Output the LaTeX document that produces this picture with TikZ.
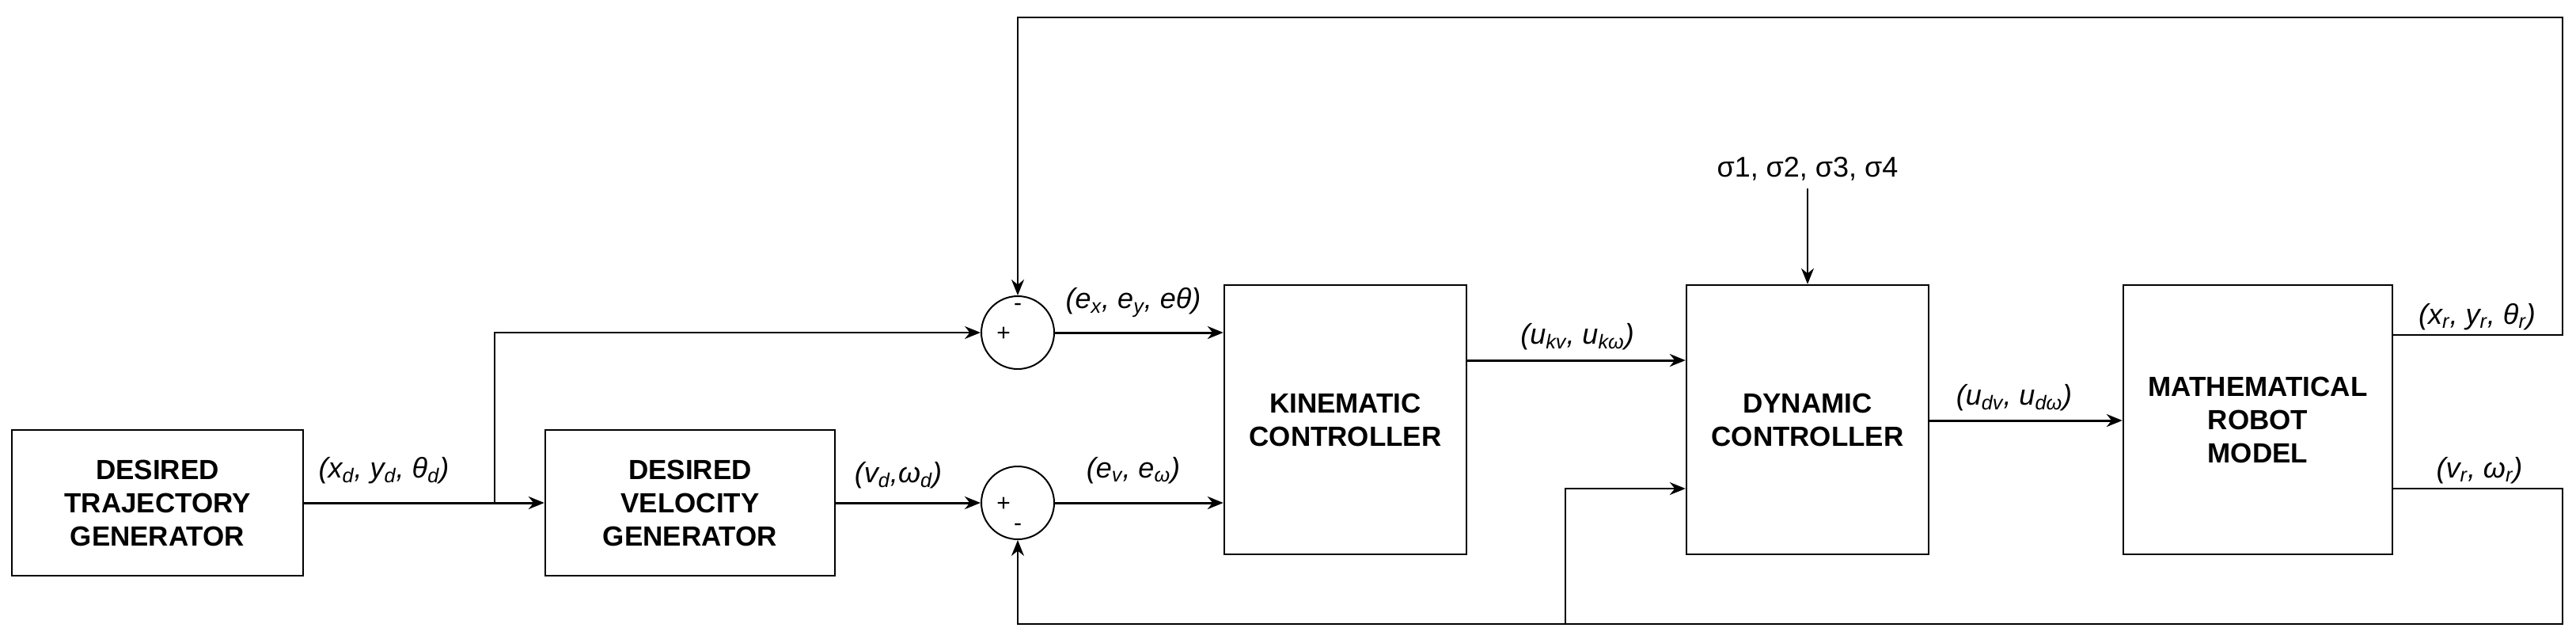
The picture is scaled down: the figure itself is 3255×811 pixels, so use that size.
\documentclass[tikz,border=0pt]{standalone}
\usepackage{fontspec}
\setmainfont{Liberation Sans}
\usetikzlibrary{arrows.meta}
\newcommand{\sbs}[1]{\textsubscript{#1}}
\begin{document}
\begin{tikzpicture}[x=0.5pt,y=-0.5pt,
  blk/.style={draw,line width=1.2pt,minimum width=#1,font=\fontsize{17.5}{21}\selectfont\bfseries,align=center,inner sep=0pt},
  sum/.style={draw,circle,line width=1pt,minimum size=46pt,inner sep=0pt},
  lbl/.style={font=\fontsize{18}{20}\selectfont\itshape,inner sep=0pt},
  sg/.style={font=\fontsize{15}{18}\selectfont,inner sep=0pt},
  ar/.style={-{Stealth[length=10pt,width=8pt]},line width=1.5pt},
  tl/.style={line width=1pt},
  ta/.style={-{Stealth[length=10pt,width=8pt]},line width=1pt}]
\useasboundingbox (0,0) rectangle (3255,811);
\node[blk, minimum width=184pt, minimum height=92pt] (dtg) at (199,635) {DESIRED\\TRAJECTORY\\GENERATOR};
\node[blk, minimum width=183pt, minimum height=92pt] (dvg) at (872,635) {DESIRED\\VELOCITY\\GENERATOR};
\node[sum] (s1) at (1286,420) {};
\node[sum] (s2) at (1286,635) {};
\node[sg] at (1286,388) {-};
\node[sg] at (1268,422) {+};
\node[sg] at (1268,637) {+};
\node[sg] at (1286,666) {-};
\node[blk, minimum width=153pt, minimum height=170pt] (kc) at (1700,530) {KINEMATIC\\CONTROLLER};
\node[blk, minimum width=153pt, minimum height=170pt] (dc) at (2284,530) {DYNAMIC\\CONTROLLER};
\node[blk, minimum width=170pt, minimum height=170pt] (mr) at (2853,530) {MATHEMATICAL\\ROBOT\\MODEL};
\node[font=\fontsize{18}{20}\selectfont,inner sep=0pt] (sig) at (2284,213) {σ1, σ2, σ3, σ4};
\coordinate (tr) at (3238,423);
\coordinate (tt) at (3238,22);
\coordinate (tl) at (1286,22);
\coordinate (rb) at (3238,617);
\coordinate (bb) at (3238,788);
\coordinate (bl) at (1286,788);
\coordinate (bm) at (1978,788);
\coordinate (bu) at (1978,617);
\coordinate (br) at (625,635);
\coordinate (bt) at (625,420);
\coordinate (sgs) at (2284,238);
\draw[ar] (dtg.east) -- (dvg.west);
\draw[ta] (br) -- (bt) -- (s1.west);
\draw[ar] (dvg.east) -- (s2.west);
\draw[ar] (s1.east) -- (kc.west |- s1.east);
\draw[ar] (s2.east) -- (kc.west |- s2.east);
\draw[ar] (kc.east |- 0,455) -- (dc.west |- 0,455);
\draw[ar] (dc.east |- 0,531) -- (mr.west |- 0,531);
\draw[ta] (sgs) -- (dc.north);
\draw[ta] (mr.east |- tr) -- (tr) -- (tt) -- (tl) -- (s1.north);
\draw[ta] (mr.east |- rb) -- (rb) -- (bb) -- (bl) -- (s2.south);
\draw[ta] (bm) -- (bu) -- (dc.west |- bu);
\node[lbl] at (485,594) {(x\sbs{d}, y\sbs{d}, θ\sbs{d})};
\node[lbl] at (1135,600) {(v\sbs{d},ω\sbs{d})};
\node[lbl] at (1432,594) {(e\sbs{v}, e\sbs{ω})};
\node[lbl] at (1432,382) {(e\sbs{x}, e\sbs{y}, eθ)};
\node[lbl] at (1993,425) {(u\sbs{kv}, u\sbs{kω})};
\node[lbl] at (2545,502) {(u\sbs{dv}, u\sbs{dω})};
\node[lbl] at (3130,400) {(x\sbs{r}, y\sbs{r}, θ\sbs{r})};
\node[lbl] at (3133,594) {(v\sbs{r}, ω\sbs{r})};
\end{tikzpicture}
\end{document}
